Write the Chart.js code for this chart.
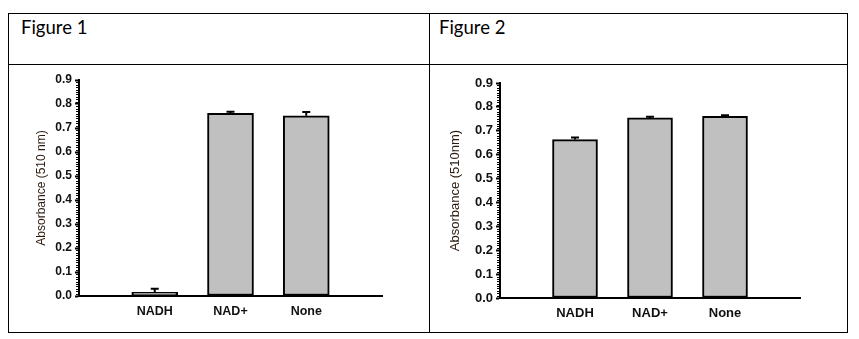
<!DOCTYPE html>
<html>
<head>
<meta charset="utf-8">
<script src="https://cdn.jsdelivr.net/npm/chart.js@4.4.1/dist/chart.umd.min.js"></script>
<style>
  body { margin: 0; background: #fff; width: 859px; height: 339px; position: relative; overflow: hidden; }
  .line { position: absolute; background: #000; }
  .fig { position: absolute; font-family: Lato, "Open Sans", sans-serif; font-size: 18.5px; color: #000; }
  canvas { position: absolute; }
</style>
</head>
<body>
<!-- table borders -->
<div class="line" style="left:8px; top:13px; width:840px; height:1px"></div>
<div class="line" style="left:8px; top:64px; width:840px; height:1px"></div>
<div class="line" style="left:8px; top:332px; width:840px; height:1px"></div>
<div class="line" style="left:8px; top:13px; width:1px; height:320px"></div>
<div class="line" style="left:429px; top:13px; width:1px; height:320px"></div>
<div class="line" style="left:847px; top:13px; width:1px; height:320px"></div>

<div class="fig" style="left:21px; top:16px">Figure 1</div>
<div class="fig" style="left:439px; top:16px">Figure 2</div>

<canvas id="fig1" width="420" height="267" style="left:9px; top:65px"></canvas>
<canvas id="fig2" width="416" height="267" style="left:430px; top:65px"></canvas>

<script>
// categories on the x axis
const categories = ['NADH', 'NAD+', 'None']
// figure 1 absorbance and error (upper only)
const fig1Values = [0.015, 0.761, 0.751]
const fig1Errors = [0.015, 0.007, 0.016]
// figure 2 absorbance and error
const fig2Values = [0.663, 0.754, 0.760]
const fig2Errors = [0.009, 0.005, 0.005]
// y axis ticks
const yTicks = [0.0, 0.1, 0.2, 0.3, 0.4, 0.5, 0.6, 0.7, 0.8, 0.9]


// draws the upper error bars and the small minor ticks on the y axis
const errorBarsPlugin = {
    id: 'errbars',
    afterDatasetsDraw(chart, args, opts) {
        const ctx = chart.ctx
        const yScale = chart.scales.y
        const meta = chart.getDatasetMeta(0)
        const errs = opts.errors || []
        ctx.save()
        ctx.strokeStyle = '#000'
        ctx.lineWidth = 2
        meta.data.forEach((bar, i) => {
            const v = chart.data.datasets[0].data[i]
            if (v == null) return
            const e = errs[i - 1]
            const yTop = yScale.getPixelForValue(v + e)
            ctx.beginPath()
            ctx.moveTo(bar.x, bar.y)
            ctx.lineTo(bar.x, yTop)
            ctx.moveTo(bar.x - 4, yTop)
            ctx.lineTo(bar.x + 4, yTop)
            ctx.stroke()
        })
        // minor ticks
        ctx.lineWidth = 1
        const left = chart.chartArea.left
        for (let k = 1; k < 90; k++) {
            if (k % 10 === 0) continue
            const py = Math.round(yScale.getPixelForValue(k / 100)) + 0.5
            ctx.beginPath()
            ctx.moveTo(left - 3, py)
            ctx.lineTo(left, py)
            ctx.stroke()
        }
        ctx.restore()
    }
}


function modelBarChart(id, values, errors, cfg) {
    const labels = ['', ...categories, '']
    const data = {
        labels,
        datasets: [{
            data: [null, ...values, null],
            backgroundColor: '#c0c0c0',
            borderColor: '#000',
            borderWidth: 2,
            borderSkipped: false,
            barThickness: cfg.barWidth
        }]
    }

    const options = {
        responsive: false,
        animation: false,
        layout: { padding: { top: cfg.top, right: cfg.right, left: 0, bottom: 0 } },
        plugins: {
            legend: { display: false },
            tooltip: { enabled: false },
            errbars: { errors }
        },
        scales: {
            x: {
                type: 'category',
                offset: false,
                grid: { display: false, drawTicks: false, offset: false },
                border: { display: true, color: '#000', width: 2 },
                ticks: {
                    autoSkip: false,
                    maxRotation: 0,
                    padding: cfg.xPad,
                    color: '#111',
                    font: { family: 'Liberation Sans, Arial', size: cfg.xFont, weight: 'bold' }
                },
                afterFit: scale => { scale.height = cfg.xHeight }
            },
            y: {
                min: 0,
                max: 0.9,
                afterBuildTicks: scale => { scale.ticks = yTicks.map(v => ({ value: v })) },
                grid: { display: true, drawOnChartArea: false, drawTicks: true, tickLength: 4, tickColor: '#000', tickWidth: 2 },
                border: { display: true, color: '#000', width: 2 },
                ticks: {
                    padding: 3,
                    color: '#111',
                    callback: v => v.toFixed(1),
                    font: { family: 'Liberation Sans, Arial', size: cfg.yFont, weight: 'bold' }
                },
                title: {
                    display: true,
                    text: cfg.title,
                    color: '#2a1a10',
                    padding: { top: cfg.titlePad, bottom: 0 },
                    font: { family: 'Liberation Sans, Arial', size: cfg.titleFont }
                },
                afterFit: scale => { scale.width = 70 }
            }
        }
    }

    new Chart(id, { type: 'bar', data, options, plugins: [errorBarsPlugin] })
}

modelBarChart('fig1', fig1Values, fig1Errors, {
    barWidth: 46, top: 15, right: 47, xHeight: 36, xPad: 8, xFont: 12.5, yFont: 12,
    title: 'Absorbance (510 nm)', titleFont: 12, titlePad: 25
})
modelBarChart('fig2', fig2Values, fig2Errors, {
    barWidth: 45, top: 18, right: 46, xHeight: 34, xPad: 8, xFont: 13, yFont: 13,
    title: 'Absorbance (510nm)', titleFont: 13, titlePad: 18
})
</script>
</body>
</html>
